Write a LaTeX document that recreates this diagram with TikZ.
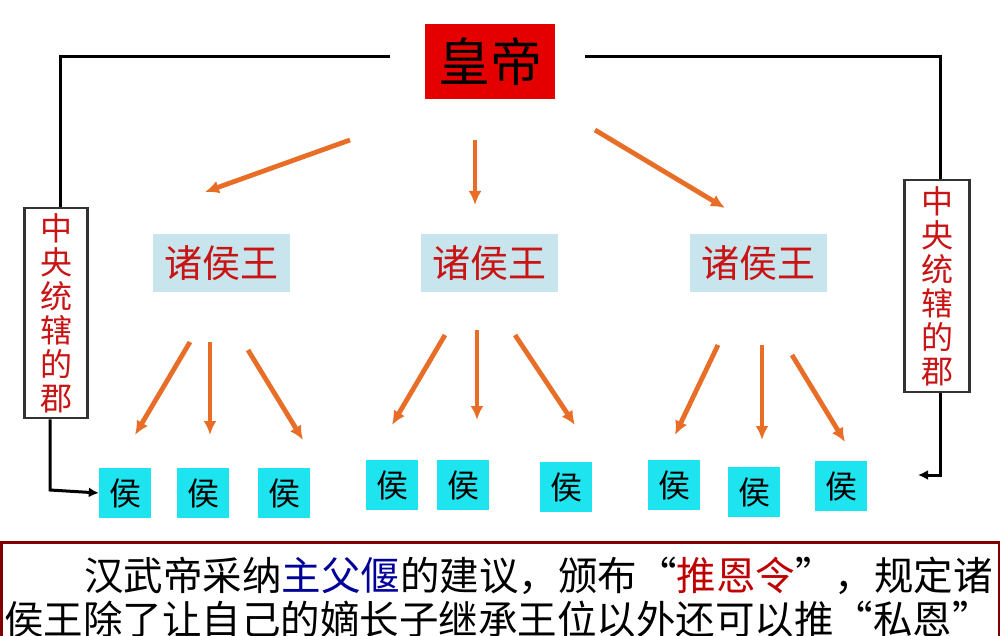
\documentclass[tikz,border=0pt]{standalone}
\usepackage{fontspec}
\newfontfamily\cjk{Noto Sans CJK SC}
\definecolor{org}{RGB}{232,110,40}
\definecolor{wbg}{RGB}{200,228,236}
\definecolor{hbg}{RGB}{30,228,240}
\definecolor{jred}{RGB}{200,20,20}
\begin{document}
\begin{tikzpicture}[x=1pt,y=-1pt,
 oarr/.style={draw=org,line width=4.8pt,-{Latex[length=14pt,width=13pt]}},
 kline/.style={draw=black,line width=3pt},
 wang/.style={fill=wbg,minimum width=137pt,minimum height=57pt,text=jred,font=\cjk\fontsize{38}{40}\selectfont},
 hou/.style={fill=hbg,minimum width=52pt,minimum height=50pt,font=\cjk\fontsize{32}{34}\selectfont,inner sep=0pt},
 jun/.style={draw=black!80,line width=2.5pt,fill=white,align=center,text=jred,font=\cjk\fontsize{32}{34}\selectfont,inner sep=3pt}]
\usetikzlibrary{arrows.meta}
\useasboundingbox (0,0) rectangle (1000,636);
\fill[white] (0,0) rectangle (1000,636);
\node[fill=red!90!black,minimum width=130pt,minimum height=75pt,font=\cjk\fontsize{52}{54}\selectfont] (hd) at (490,62) {皇帝};
\node[jun,minimum width=63pt,minimum height=210pt] (jl) at (56,313) {中\\央\\统\\辖\\的\\郡};
\node[jun,minimum width=65pt,minimum height=212pt] (jr) at (937,286) {中\\央\\统\\辖\\的\\郡};
\node[wang] (w1) at (221,263) {诸侯王};
\node[wang] (w2) at (489,263) {诸侯王};
\node[wang] (w3) at (758,263) {诸侯王};
\node[hou] (h1) at (125,493) {侯};
\node[hou] (h2) at (203,493) {侯};
\node[hou] (h3) at (284,493) {侯};
\node[hou] (h4) at (392,485) {侯};
\node[hou] (h5) at (463,485) {侯};
\node[hou] (h6) at (566,487) {侯};
\node[hou] (h7) at (674,485) {侯};
\node[hou] (h8) at (754,492) {侯};
\node[hou] (h9) at (841,486) {侯};
\coordinate (a1) at (390,57); \coordinate (a2) at (585,57);
\draw[kline] (a1) -- (60,57) -- (jl.north -| 60,0);
\draw[kline] (a2) -- (940,57) -- (jr.north -| 940,0);
\draw[kline,-{Latex[length=10pt,width=10pt]}] (jl.south -| 50,0) -- (50,490) -- (h1.west);
\coordinate (e9) at (918,475);
\draw[kline,-{Latex[length=10pt,width=10pt]}] (jr.south -| 940,0) -- (940,475) -- (e9);
\coordinate (s1) at (350,140); \coordinate (s2) at (475,140); \coordinate (s3) at (595,130);
\draw[oarr] (s1) -- (205,192);
\draw[oarr] (s2) -- (475,205);
\draw[oarr] (s3) -- (725,208);
\draw[oarr] (190,342) -- (135,435);
\draw[oarr] (210,342) -- (210,435);
\draw[oarr] (248,350) -- (303,440);
\draw[oarr] (445,335) -- (392,425);
\draw[oarr] (477,330) -- (477,420);
\draw[oarr] (515,335) -- (575,425);
\draw[oarr] (718,345) -- (675,435);
\draw[oarr] (762,345) -- (762,440);
\draw[oarr] (792,355) -- (845,442);
\draw[draw=red!50!black,line width=3pt,fill=white] (1,542) rectangle (999,640);
\node[anchor=west,font=\cjk\fontsize{39.5}{42}\selectfont,inner sep=0] (t1) at (84,576) {汉武帝采纳\textcolor{blue!60!black}{主父偃}的建议，颁布“\textcolor{red!75!black}{推恩令}”，规定诸};
\node[anchor=west,font=\cjk\fontsize{39.5}{42}\selectfont,inner sep=0] (t2) at (4,619) {侯王除了让自己的嫡长子继承王位以外还可以推“私恩”};
\end{tikzpicture}
\end{document}
